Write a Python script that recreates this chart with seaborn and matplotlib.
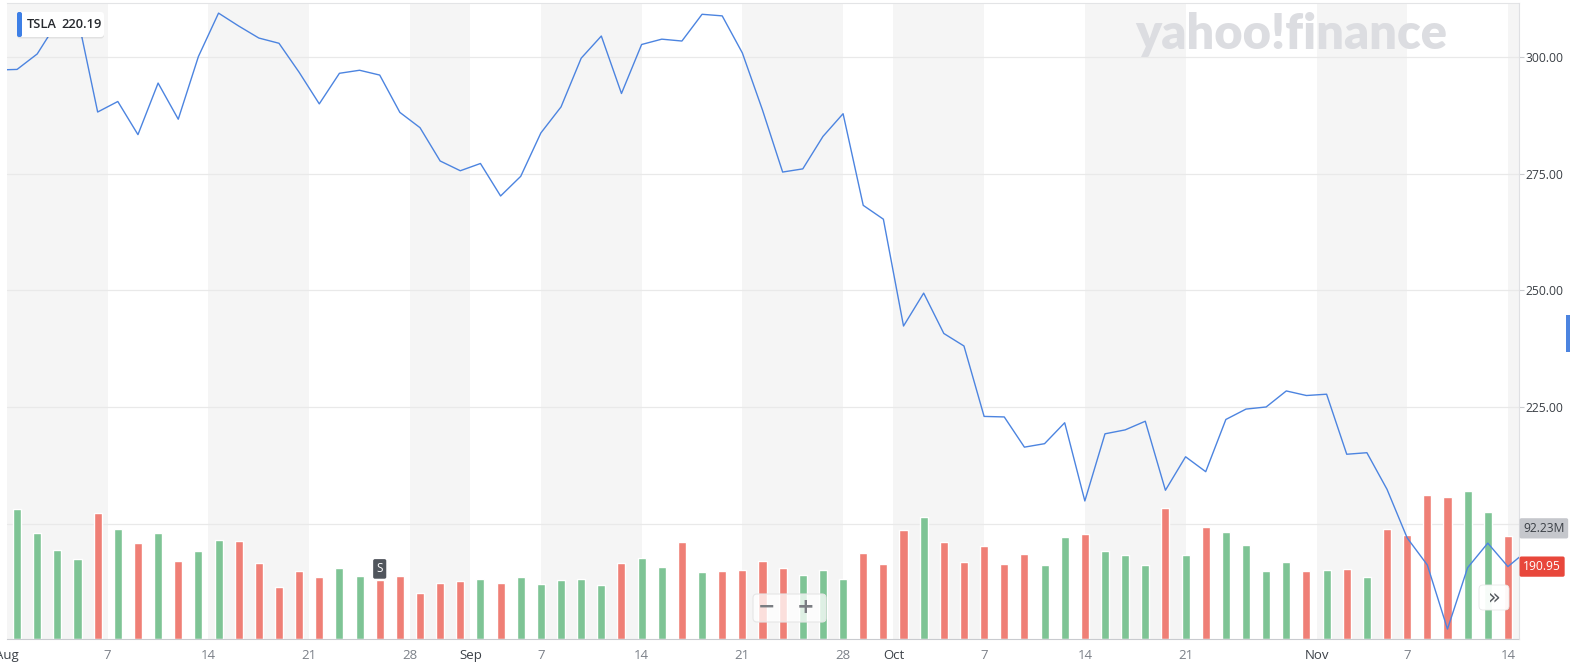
import numpy as np
import pandas as pd
import matplotlib
matplotlib.use("Agg")
import matplotlib.pyplot as plt
import seaborn as sns
from matplotlib import font_manager
from matplotlib.transforms import blended_transform_factory
from matplotlib.patches import FancyBboxPatch, Rectangle

# ---------------- data ----------------
ticker = "TSLA"
legend_value = 220.19
trade_days = [d for d in pd.bdate_range("2022-08-01", "2022-11-14") if d != pd.Timestamp("2022-09-05")]
close = [297.28, 300.59, 307.40, 308.63, 288.17, 290.42, 283.33, 294.36, 286.63, 300.03,
         309.32, 306.56, 303.99, 302.87, 296.67, 289.91, 296.45, 297.10, 296.07, 288.09,
         284.82, 277.70, 275.61,
         277.16, 270.21, 274.42, 283.70, 289.26, 299.68, 304.42, 292.13, 302.61, 303.75,
         303.35, 309.07, 308.73, 300.80, 288.59, 275.33, 276.01, 282.94, 287.81, 268.21, 265.25,
         242.40, 249.44, 240.81, 238.13, 223.07, 222.96, 216.50, 217.24, 221.72, 204.99,
         219.35, 220.19, 222.04, 207.28, 214.44, 211.25, 222.42, 224.64, 225.09, 228.52, 227.54,
         227.82, 214.98, 215.31, 207.47, 197.08, 191.30, 177.59, 190.72, 195.97, 190.95]
prev_close = 297.15   # close before the first visible day
next_close = 194.53   # close after the last visible day
volume_m = [116.4, 94.9, 79.7, 71.6, 112.8, 98.5, 85.9, 94.9, 69.8, 78.8,
            88.6, 87.7, 68.0, 46.6, 60.9, 55.5, 63.6, 56.4, 52.8, 56.4,
            41.2, 50.1, 51.9, 53.7, 50.1, 55.5, 49.2, 52.8, 53.7, 48.3,
            68.0, 72.5, 64.5, 86.8, 60.0, 60.9, 61.8, 69.8, 63.6, 57.3,
            61.8, 53.7, 77.0, 67.1, 97.6, 109.2, 86.8, 68.9, 83.3, 67.1,
            76.1, 66.2, 91.3, 94.0, 78.8, 75.2, 66.2, 117.3, 75.2, 100.3,
            95.8, 84.2, 60.9, 68.9, 60.9, 61.8, 62.7, 55.5, 98.5, 93.1,
            128.9, 127.1, 132.5, 113.7, 92.23]
split_day = pd.Timestamp("2022-08-25")
# x tick positions in trading-day units and their labels
tick_pos = [-0.5, 4.5, 9.5, 14.5, 19.5, 22.5, 26, 31, 36, 41, 43.5, 48, 53, 58, 64.5, 69, 74]
tick_labels = ["Aug", "7", "14", "21", "28", "Sep", "7", "14", "21", "28",
               "Oct", "7", "14", "21", "Nov", "7", "14"]
month_labels = {"Aug", "Sep", "Oct", "Nov"}
price_ticks = [200, 225, 250, 275, 300]

# ---------------- style ----------------
sns.set_style("white")
names = {f.name for f in font_manager.fontManager.ttflist}
base_font = "Open Sans" if "Open Sans" in names else "DejaVu Sans"
narrow_font = "Liberation Sans Narrow" if "Liberation Sans Narrow" in names else base_font
plt.rcParams["font.family"] = [base_font, "DejaVu Sans"]

GREEN = "#7ec495"
RED = "#ef7f76"
BLUE = "#4c84e0"
BAND = "#f5f5f5"
GRID = "#e9e9e9"

W, H = 1576, 667
fig = plt.figure(figsize=(W / 100, H / 100), dpi=100)
fig.patch.set_facecolor("white")
x0, x1, ytop, ybot = 7, 1519, 2.5, 639
ax = fig.add_axes([x0 / W, (H - ybot) / H, (x1 - x0) / W, (ybot - ytop) / H])

n = len(close)
df = pd.DataFrame({"i": np.arange(n), "vol": volume_m, "close": close})
prevs = [prev_close] + close[:-1]
df["dir"] = ["up" if c >= p else "down" for c, p in zip(close, prevs)]

# volume bars
sns.barplot(data=df, x="i", y="vol", hue="dir", palette={"up": GREEN, "down": RED},
            dodge=False, width=0.4, saturation=1, legend=False, ax=ax, zorder=2)
ax.set_xlim(-0.5, 74.55)
ax.set_ylim(0, (ybot - ytop) / 1.117)

# price line on twin axis
ax2 = ax.twinx()
line_x = np.concatenate([[-1], df["i"].values, [n]])
line_y = np.concatenate([[prev_close], df["close"].values, [next_close]])
sns.lineplot(x=line_x, y=line_y, ax=ax2, color=BLUE, linewidth=1.0, sort=False)
ax2.set_ylim(175.47, 311.59)
ax.set_xlim(-0.5, 74.55)

# alternating weekly bands
bounds = tick_pos + [74.55]
for k in range(len(bounds) - 1):
    if k % 2 == 0:
        ax.axvspan(bounds[k], bounds[k + 1], color=BAND, zorder=0, lw=0)
# price gridlines drawn under the bars
blend = blended_transform_factory(ax.transAxes, ax2.transData)
for p in price_ticks:
    ax.plot([0, 1], [p, p], transform=blend, color=GRID, lw=0.9, zorder=1)

# axes decorations
for a in (ax, ax2):
    a.set_xlabel("")
    a.set_ylabel("")
    for s in a.spines.values():
        s.set_visible(False)
ax.spines["bottom"].set_visible(True)
ax.spines["bottom"].set_color("#c9cbcf")
ax.spines["top"].set_visible(True)
ax.spines["top"].set_color("#e3e4e6")
ax2.spines["right"].set_visible(True)
ax2.spines["right"].set_color("#dfe0e3")
ax.set_yticks([])

ax.set_xticks(tick_pos)
ax.set_xticklabels(tick_labels)
ax.tick_params(axis="x", length=4.5, width=0.8, color="#c9cbcf", pad=2.5, labelsize=9.5)
for t in ax.get_xticklabels():
    t.set_fontfamily([narrow_font, "DejaVu Sans"])
    t.set_color("#3c4148" if t.get_text() in month_labels else "#7b8088")

ax2.set_yticks(price_ticks)
ax2.set_yticklabels([f"{p:.2f}" for p in price_ticks])
ax2.tick_params(axis="y", length=3.5, width=0.8, color="#c9cbcf", pad=1.2,
                labelsize=8.7, labelcolor="#3a3f45")

# split marker
si = trade_days.index(split_day)
ax.annotate("S", xy=(si, volume_m[si]), xytext=(0, 8.0), textcoords="offset points",
            ha="center", va="center", color="white", fontsize=8.5, zorder=6,
            bbox=dict(boxstyle="round,pad=0.28,rounding_size=0.15", fc="#50555c", ec="none"))

# right-side badges (drawn on the top axes so they cover the tick labels)
ax2.annotate(f"{volume_m[-1]:.2f}M", xy=(1, volume_m[-1]),
             xycoords=blended_transform_factory(ax2.transAxes, ax.transData),
             xytext=(3, 5.5), textcoords="offset points", ha="left", va="center",
             fontsize=8.7, color="#3a3f45", annotation_clip=False, zorder=8,
             bbox=dict(boxstyle="round,pad=0.3,rounding_size=0.15", fc="#c5c7cc", ec="none"))
ax2.annotate(f"{close[-1]:.2f}", xy=(1, close[-1]),
             xycoords=blended_transform_factory(ax2.transAxes, ax2.transData),
             xytext=(3, 0), textcoords="offset points", ha="left", va="center",
             fontsize=8.7, color="white", annotation_clip=False, zorder=8,
             bbox=dict(boxstyle="round,pad=0.3,rounding_size=0.15", fc="#e8473b", ec="none"))

# legend chip (top-left)
def px(x, y_from_top):
    return x, H - y_from_top

shadow = FancyBboxPatch(px(17, 38.5), 87, 25, boxstyle="round,pad=0,rounding_size=3",
                        transform=None, fc="#00000014", ec="none", zorder=9)
chip = FancyBboxPatch(px(17, 37), 87, 25, boxstyle="round,pad=0,rounding_size=3",
                      transform=None, fc="white", ec="none", zorder=10)
stripe = FancyBboxPatch(px(17, 37), 5, 25, boxstyle="round,pad=0,rounding_size=2",
                        transform=None, fc="#3d7fe6", ec="none", zorder=11)
for p in (shadow, chip, stripe):
    fig.add_artist(p)
fig.text(27 / W, (H - 25) / H, ticker, ha="left", va="center", fontsize=9.3,
         fontweight="semibold", color="#26292e", zorder=12)
fig.text(61 / W, (H - 25) / H, f"{legend_value:.2f}", ha="left", va="center", fontsize=9.3,
         fontweight="semibold", color="#26292e", zorder=12)

# watermark
wm_font = "Lato" if "Lato" in names else base_font
wm = fig.text(1291 / W, (H - 49) / H, "yahoo!finance", ha="center", va="baseline",
              fontsize=34, fontweight="heavy", color="#dcdde1", family=wm_font, zorder=1)
fig.canvas.draw()
bb = wm.get_window_extent()
wm.set_fontsize(34 * 313 / bb.width)

# zoom buttons
btn = FancyBboxPatch(px(753, 622), 73, 28, boxstyle="round,pad=0,rounding_size=4",
                     transform=None, fc="#ffffffc0", ec="#e6e6e6", lw=0.8, zorder=9)
fig.add_artist(btn)
fig.add_artist(Rectangle(px(789.5, 618), 0.8, 20, transform=None, fc="#e0e0e0", ec="none", zorder=10))
fig.text(767 / W, (H - 607) / H, "\u2212", ha="center", va="center", fontsize=15,
         fontweight="bold", color="#7a7d82", family="DejaVu Sans", zorder=11)
fig.text(806 / W, (H - 607) / H, "+", ha="center", va="center", fontsize=15,
         fontweight="bold", color="#7a7d82", family="DejaVu Sans", zorder=11)

more = FancyBboxPatch(px(1479, 610), 30, 25, boxstyle="round,pad=0,rounding_size=4",
                      transform=None, fc="#fffffff0", ec="#e8e8e8", lw=0.6, zorder=9)
fig.add_artist(more)
fig.text(1494 / W, (H - 597.5) / H, "\u00bb", ha="center", va="center", fontsize=15,
         color="#55595f", family="DejaVu Sans", zorder=11)

# right edge blue marker
fig.add_artist(Rectangle(px(1566, 352), 4, 37, transform=None, fc="#4c84e0", ec="none", zorder=10))

fig.savefig("out.png", dpi=100)
